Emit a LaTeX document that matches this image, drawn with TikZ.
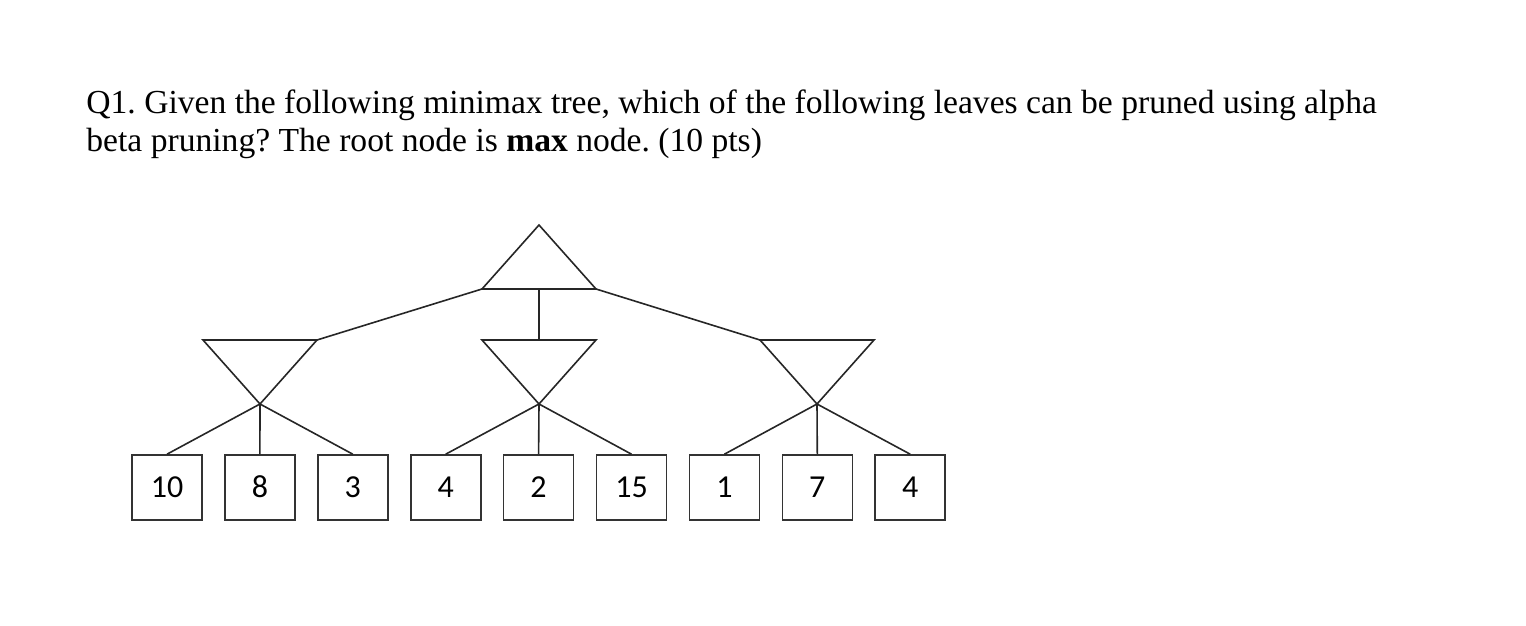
\documentclass[tikz,border=0pt]{standalone}
\usepackage{fontspec}
\setmainfont{Liberation Serif}
\newfontfamily\leaffont{Carlito}
\usetikzlibrary{positioning}
\frenchspacing

\begin{document}
\begin{tikzpicture}[x=0.5pt,y=-0.5pt,
  edge/.style={black!85,line width=0.8pt},
  leaf/.style={draw=black!80,line width=0.8pt,minimum width=35pt,minimum height=32.5pt,inner sep=0pt,text height=10pt,text depth=0pt,font=\leaffont\fontsize{16}{16}\selectfont},
  question/.style={anchor=base west,inner sep=0pt,font=\fontsize{16.8}{16}\selectfont}]
\useasboundingbox (0,0) rectangle (1526,626);
% question text
\node[question] (q1) at (86,114) {Q1. Given the following minimax tree, which of the following leaves can be pruned using alpha};
\node[question] (q2) at (86,151) {beta pruning? The root node is \textbf{max} node. (10 pts)};
% max node
\coordinate (root) at (539,225);
\coordinate (root-l) at (482,289);
\coordinate (root-b) at (539,289);
\coordinate (root-r) at (596,289);
\draw[edge] (root) -- (root-r) -- (root-l) -- cycle;
% min nodes
\foreach \i/\c in {1/260,2/539,3/817} {
  \coordinate (min\i) at (\c,404);
  \coordinate (min\i-l) at ({\c-57},340);
  \coordinate (min\i-t) at (\c,340);
  \coordinate (min\i-r) at ({\c+57},340);
  \draw[edge] (min\i) -- (min\i-l) -- (min\i-r) -- cycle;
}
\draw[edge] (root-l) -- (min1-r);
\draw[edge] (root-b) -- (min2-t);
\draw[edge] (root-r) -- (min3-l);
% leaves
\foreach \v [count=\k] in {10,8,3,4,2,15,1,7,4}
  \node[leaf] (leaf\k) at ({167+92.9*(\k-1)},487.5) {\v};
\foreach \k in {1,...,9} {
  \pgfmathtruncatemacro\p{(\k+2)/3}
  \draw[edge] (min\p) -- (leaf\k.north);
}
\end{tikzpicture}
\end{document}
